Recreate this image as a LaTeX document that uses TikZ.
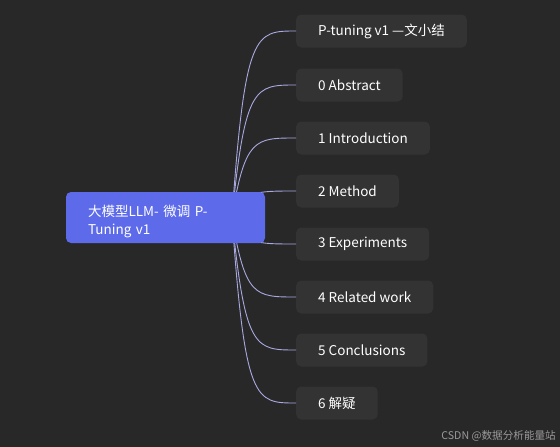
\documentclass[tikz,border=0pt]{standalone}
\usepackage{fontspec}
\setmainfont{Noto Sans CJK SC}
\definecolor{bgc}{HTML}{282828}
\definecolor{boxc}{HTML}{333333}
\definecolor{rootc}{HTML}{5D6BEB}
\definecolor{linec}{HTML}{A9A9E2}
\definecolor{wmc}{HTML}{9A9A9A}
\begin{document}
\begin{tikzpicture}[x=1pt,y=-1pt,
  child/.style={fill=boxc, rounded corners=5pt, anchor=west, minimum height=33pt, inner xsep=22pt, inner ysep=0pt, text=white, font=\fontsize{13.5}{16}\selectfont},
  rootbox/.style={fill=rootc, rounded corners=5pt, minimum width=199pt, minimum height=51pt, text width=155pt, align=left, inner xsep=22pt, text=white, font=\fontsize{13.5}{18}\selectfont},
  conn/.style={draw=linec, line width=0.9pt}]
\fill[bgc] (0,0) rectangle (560,447);
\useasboundingbox (0,0) rectangle (560,447);
\coordinate (hub) at (232,217);
\coordinate (k1) at (245,0);
\coordinate (k2) at (255,0);
\node[child] (c0) at (296,31) {P-tuning v1 —文小结};
\node[child] (c1) at (296,85) {0 Abstract};
\node[child] (c2) at (296,138) {1 Introduction};
\node[child] (c3) at (296,191) {2 Method};
\node[child] (c4) at (296,244) {3 Experiments};
\node[child] (c5) at (296,297) {4 Related work};
\node[child] (c6) at (296,350) {5 Conclusions};
\node[child] (c7) at (296,403) {6 解疑};
\foreach \n in {c0,c1,c2,c3,c4,c5,c6,c7}{
  \draw[conn] (hub) .. controls (k1 |- \n.west) and (k2 |- \n.west) .. (\n.west);
}
\node[rootbox] (root) at (165.5,217.5) {\raisebox{-4.5pt}[\height][\depth]{大模型LLM- 微调 P-}\\\raisebox{-4.5pt}[\height][\depth]{Tuning v1}};
\node[anchor=south east, text=wmc, inner sep=0pt, font=\fontsize{10.6}{12}\selectfont] (wm) at (556,442) {CSDN @数据分析能量站};
\end{tikzpicture}
\end{document}
